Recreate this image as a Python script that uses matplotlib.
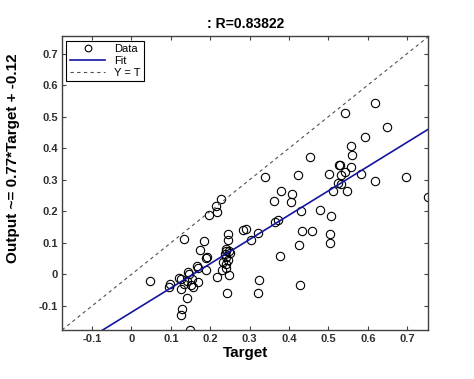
import numpy as np
import matplotlib
matplotlib.use('Agg')
import matplotlib.pyplot as plt

# 数据
target = [0.619, 0.543, 0.648, 0.593, 0.558, 0.561, 0.454, 0.526, 0.530, 0.557,
          0.339, 0.423, 0.502, 0.533, 0.543, 0.582, 0.618, 0.697, 0.524, 0.531,
          0.379, 0.408, 0.512, 0.547, 0.754, 0.362, 0.406, 0.431, 0.478, 0.507,
          0.373, 0.364, 0.432, 0.459, 0.504, 0.425, 0.504, 0.377, 0.325, 0.322,
          0.427, 0.228, 0.216, 0.218, 0.197, 0.134, 0.184, 0.245, 0.246, 0.284,
          0.291, 0.322, 0.303, 0.174, 0.239, 0.241, 0.247, 0.238, 0.250, 0.239,
          0.244, 0.232, 0.240, 0.241, 0.230, 0.247, 0.217, 0.190, 0.193, 0.166,
          0.169, 0.145, 0.146, 0.189, 0.168, 0.152, 0.157, 0.122, 0.126, 0.140,
          0.133, 0.126, 0.097, 0.096, 0.047, 0.242, 0.140, 0.129, 0.126, 0.150,
          0.155]
output = [0.543, 0.511, 0.468, 0.437, 0.408, 0.378, 0.372, 0.346, 0.348, 0.339,
          0.308, 0.315, 0.317, 0.316, 0.324, 0.319, 0.297, 0.308, 0.291, 0.286,
          0.264, 0.255, 0.265, 0.264, 0.247, 0.234, 0.229, 0.201, 0.205, 0.184,
          0.173, 0.166, 0.137, 0.139, 0.127, 0.093, 0.101, 0.058, -0.017, -0.060,
          -0.034, 0.238, 0.216, 0.197, 0.189, 0.111, 0.105, 0.129, 0.109, 0.141,
          0.143, 0.132, 0.109, 0.077, 0.081, 0.074, 0.073, 0.065, 0.069, 0.055,
          0.047, 0.040, 0.033, 0.021, 0.013, -0.003, -0.007, 0.051, 0.054, 0.028,
          0.022, 0.009, 0.002, 0.013, -0.024, -0.035, -0.041, -0.012, -0.015, -0.022,
          -0.030, -0.047, -0.030, -0.040, -0.021, -0.058, -0.076, -0.108, -0.127, -0.176,
          -0.014]

fit_slope = 0.77
fit_intercept = -0.12
r_value = 0.83822
ticks = [-0.1, 0, 0.1, 0.2, 0.3, 0.4, 0.5, 0.6, 0.7]
tick_labels = ['-0.1', '0', '0.1', '0.2', '0.3', '0.4', '0.5', '0.6', '0.7']

plt.rcParams['font.family'] = ['Liberation Sans', 'DejaVu Sans']

t = np.array(target)
y = np.array(output)
lo = min(t.min(), y.min())
hi = max(t.max(), y.max())
line_x = np.array([lo, hi])

fig = plt.figure(figsize=(4.74, 3.79), dpi=100)
ax = fig.add_axes([0.1308, 0.1293, 0.7732, 0.7744])

ax.plot(t, y, 'o', mfc='none', mec='black', ms=6, mew=0.8, label='Data')
ax.plot(line_x, fit_slope * line_x + fit_intercept, color='#1414a0', lw=1.2, label='Fit')
ax.plot(line_x, line_x, ls=(0, (3, 3)), color='#505050', lw=0.8, label='Y = T')

ax.set_xlim(lo, hi)
ax.set_ylim(lo, hi)
ax.set_xticks(ticks)
ax.set_xticklabels(tick_labels)
ax.set_yticks(ticks)
ax.set_yticklabels(tick_labels)

for lab in ax.get_xticklabels() + ax.get_yticklabels():
    lab.set_fontweight('bold')
    lab.set_fontsize(8)
    lab.set_color('#303030')
ax.tick_params(direction='in', top=True, right=True, length=3, width=0.8,
               color='#404040', pad=3)
for s in ax.spines.values():
    s.set_color('#404040')
    s.set_linewidth(1.0)

ax.set_title(': R=%.5f' % r_value, fontsize=10, fontweight='bold', pad=6)
ax.set_xlabel('Target', fontsize=11, fontweight='bold', labelpad=1)
ax.set_ylabel('Output ~= %.2g*Target + %.2g' % (fit_slope, fit_intercept),
              fontsize=11, fontweight='bold')
# 参考图里 ylabel 稍微偏上
ax.yaxis.set_label_coords(-0.115, 0.585)

leg = ax.legend(loc='upper left', fontsize=8, fancybox=False, edgecolor='black',
                framealpha=1, borderaxespad=0.4, handlelength=3.2,
                borderpad=0.3, labelspacing=0.15, markerscale=0.8)
leg.get_frame().set_linewidth(0.8)

plt.savefig('out.png', dpi=100)
